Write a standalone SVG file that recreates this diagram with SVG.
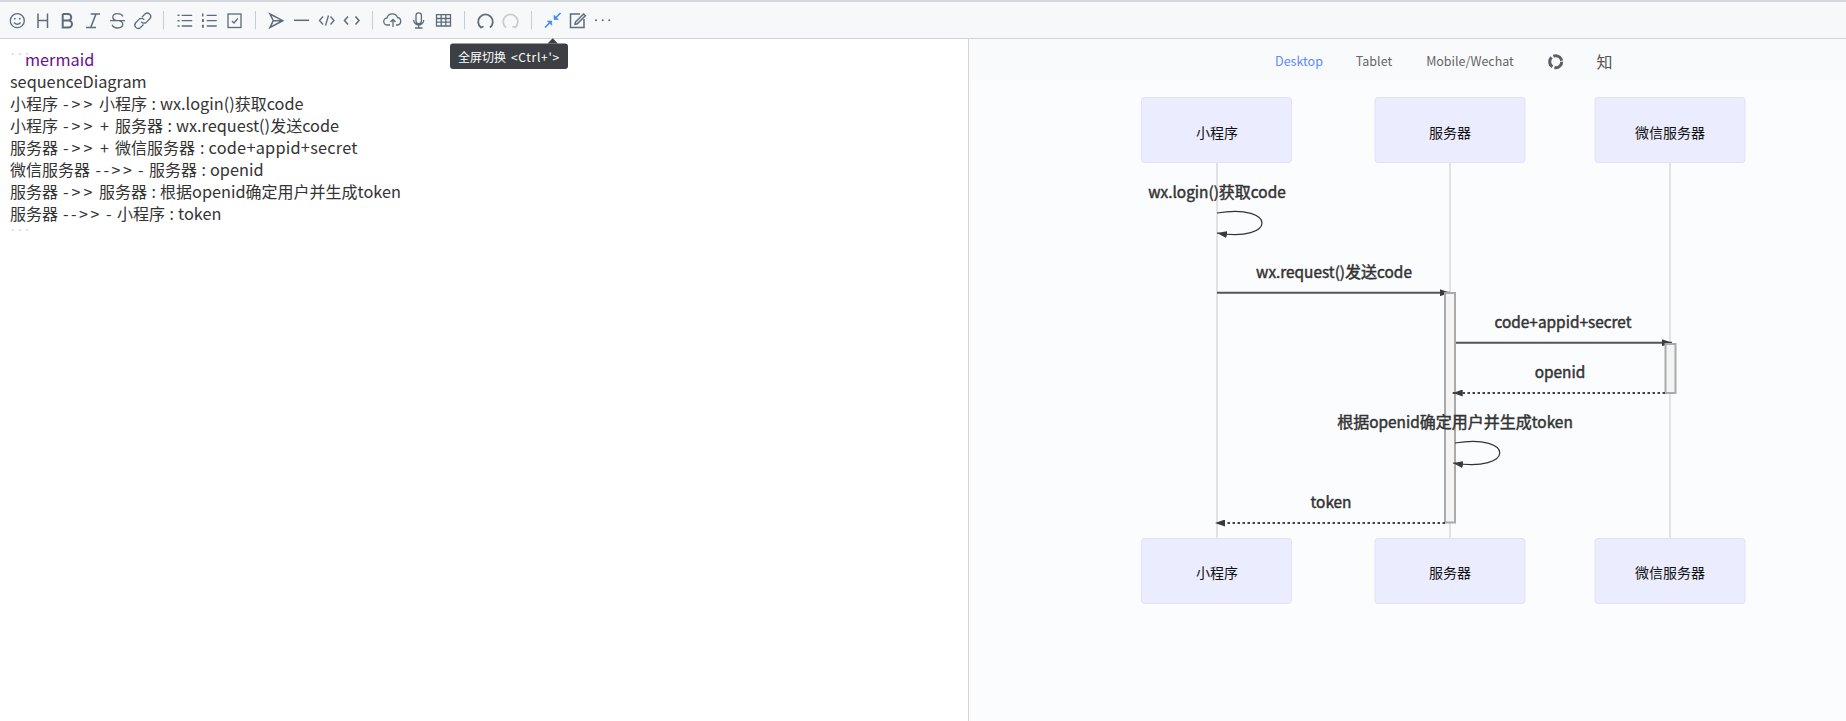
<svg xmlns="http://www.w3.org/2000/svg" width="1846" height="721" viewBox="0 0 1846 721">
<style>
text{font-family:"Noto Sans CJK SC","Noto Sans",sans-serif}
.src{font-size:16px;fill:#333;dominant-baseline:central}
.l{font-size:16.3px}
.tick{font-size:10px;fill:#bdbdbd;letter-spacing:1.2px}
.hdr{font-size:12.5px;fill:#666;text-anchor:middle;dominant-baseline:central}
.actor{fill:#ececff;stroke:#e2e0fa;stroke-width:1}
.aname{font-size:14px;fill:#111;text-anchor:middle;dominant-baseline:central}
.life{stroke:#d4d4d4;stroke-width:1.3;fill:none}
.msg{font-size:15.4px;fill:#333;stroke:#333;stroke-width:.45;text-anchor:middle;dominant-baseline:central}
.c{font-size:16px}
.line{stroke:#555;stroke-width:2;fill:none}
.dash{stroke:#444;stroke-width:2;fill:none;stroke-dasharray:2.500 2.500}
.self{stroke:#333;stroke-width:1.2;fill:none}
.act{fill:#f4f4f4;stroke:#aaa;stroke-width:2}
.ic{fill:none;stroke:#5f6b7a;stroke-width:1.3}
.dot{fill:#5f6b7a}
.sep{stroke:#c8ccd1;stroke-width:1}
</style>
<defs>
<marker id="arrow" viewBox="0 0 10 7" refX="10" refY="3.500" markerUnits="userSpaceOnUse" markerWidth="10" markerHeight="7" orient="auto"><path d="M0 0L10 3.500L0 7z" fill="#3a3a3a"/></marker>
</defs>
<rect width="1846" height="721" fill="#fff"/>
<rect x="969" y="38" width="877" height="683" fill="#fbfcfe"/>
<rect x="969" y="39" width="877" height="41" fill="#f9fafb"/>
<rect x="968" y="38" width="1" height="683" fill="#d1d5da"/>
<rect width="1846" height="38" fill="#f6f8fa"/>
<rect width="1846" height="2" fill="#d4d7dc"/>
<rect y="38" width="1846" height="1" fill="#d1d5da"/>

<g id="toolbar">
<circle class="ic" cx="17.300" cy="20.700" r="7"/><circle class="dot" cx="14.800" cy="18.700" r=".9"/><circle class="dot" cx="19.800" cy="18.700" r=".9"/><path class="ic" d="M14 22.500q3.300 3.500 6.600 0"/>
<path class="ic" style="stroke-width:1.500" d="M38 13.500v14.500M47.500 13.500v14.500M38 20.500h9.500"/>
<path class="ic" style="stroke-width:2" d="M62.700 14v13.500h5.800a3.500 3.500 0 0 0 0-7h-5.800M62.700 14h5.300a3.200 3.200 0 0 1 0 6.500"/>
<path class="ic" style="stroke-width:1.500" d="M90.700 14h9.300M86 27.500h10M96 14l-5.300 13.500"/>
<path class="ic" d="M110 20.700h15M123 16.500C122 14.500 120 13.700 117.500 13.700C114.500 13.700 112.800 15.200 112.800 17.300C112.800 19 114 20 116 20.700M119 20.700C121.500 21.500 122.800 22.500 122.800 24.300C122.800 26.500 120.800 28 117.500 28C114.800 28 112.800 26.800 112.200 24.800"/>
<path class="ic" d="M142 17l3-3a3.400 3.400 0 0 1 4.800 4.800l-3.800 3.800a3.400 3.400 0 0 1-4.800-1M143.500 24.500l-3 3a3.400 3.400 0 0 1-4.800-4.800l3.800-3.800a3.400 3.400 0 0 1 4.800 1"/>
<line class="sep" x1="163.500" y1="11" x2="163.500" y2="29.500"/>
<path class="ic" d="M181.700 15.300h10.500M181.700 20.700h10.500M181.700 26h10.500"/>
<path class="dot" d="M177.500 14.500h2v1.600h-2zM177.500 19.900h2v1.600h-2zM177.500 25.200h2v1.600h-2z"/>
<path class="ic" d="M206.700 15.300h10M206.700 20.700h10M206.700 26h10"/>
<path class="dot" d="M202 13.500h1.500v3h-1.500zM202 19h1.800v3h-1.800zM202 24.800h1.800v3h-1.800z"/>
<rect class="ic" x="228" y="14" width="13" height="13.500"/><path class="ic" d="M232 21l2 2 3.800-4.500"/>
<line class="sep" x1="255.500" y1="11" x2="255.500" y2="29.500"/>
<path class="ic" style="stroke-width:1.500" d="M270 14l12.800 6.700-12.800 6.800 3.300-6.800zM273.300 20.700h9.500"/>
<path class="ic" style="stroke-width:1.500" d="M294 20.300h15"/>
<path class="ic" d="M323 16.500l-3.500 4 3.500 4M330.500 16.500l3.500 4-3.500 4M328.500 15.500l-3 10"/>
<path class="ic" style="stroke-width:1.500" d="M348 16.500l-3.500 4 3.500 4M355.500 16.500l3.500 4-3.500 4"/>
<line class="sep" x1="372.500" y1="11" x2="372.500" y2="29.500"/>
<path class="ic" d="M390 25h-2.500a3.500 3.500 0 0 1-.5-7 5.500 5.500 0 0 1 10.500-.5 3.800 3.800 0 0 1 0 7.500h-1.500M393 27v-7.500M390.500 22l2.500-2.500 2.500 2.500"/>
<path class="ic" d="M416 15.500a2.700 2.700 0 0 1 5.400 0v5.500a2.700 2.700 0 0 1-5.400 0zM413.700 20a5 5 0 0 0 10 0M418.700 25.500v2.500M415 28h7.500"/>
<path class="ic" d="M436.500 14.700h14v11.300h-14zM436.500 18.500h14M436.500 22.200h14M441.200 14.700v11.300M445.800 14.700v11.300"/>
<line class="sep" x1="464.500" y1="11" x2="464.500" y2="29.500"/>
<path class="ic" style="stroke-width:1.800" d="M481 27.500a7.300 7.300 0 1 1 9 0M478.500 24.500l2.500 3 2.500-1"/>
<path class="ic" style="stroke:#ccc;stroke-width:1.800" d="M506 27.500a7.300 7.300 0 1 1 9 0M517.500 24.500l-2.500 3-2.500-1"/>
<line class="sep" x1="531.500" y1="11" x2="531.500" y2="29.500"/>
<path fill="#3f86f8" stroke="#3f86f8" stroke-width=".6" d="M554 19.500v-4.300l4.300 4.300zM551.700 21v4.300l-4.300-4.300z"/>
<path fill="none" stroke="#3f86f8" stroke-width="1.600" d="M560.500 13l-4.500 4.500M545 27.500l4.500-4.500"/>
<path class="ic" style="stroke-width:1.500" d="M580 14h-9.500v13.500h13.500v-8.500M575.500 22l8-8 1.800 1.800-8 8-2.300.4z"/>
<circle class="dot" cx="596" cy="20.300" r="1"/><circle class="dot" cx="602.700" cy="20.300" r="1"/><circle class="dot" cx="609.300" cy="20.300" r="1"/>
</g>

<g id="tooltip">
<rect x="450" y="43.500" width="118" height="25.500" rx="3" fill="#3c3f43"/>
<path d="M547.500 43.500l5.200-5.200 5.200 5.200z" fill="#3c3f43"/>
<text y="56" font-size="12" fill="#fff" dominant-baseline="central"><tspan x="458">全屏切换</tspan><tspan x="511" letter-spacing=".7">&lt;Ctrl+'&gt;</tspan></text>
</g>

<g id="source">
<text x="10" y="61.500" class="tick">```</text>
<text x="25" y="65.500" font-size="16.300" fill="#6a0f8e">mermaid</text>
<text class="src"  y="81"><tspan x="10" class="l">sequenceDiagram</tspan></text>
<text class="src" y="103"><tspan x="10">小程序</tspan><tspan x="63" letter-spacing="3">-&gt;&gt;</tspan><tspan x="99">小程序</tspan><tspan x="151.500">:</tspan><tspan x="160" class="l">wx.login()</tspan><tspan>获取</tspan><tspan class="l">code</tspan></text>
<text class="src" y="125"><tspan x="10">小程序</tspan><tspan x="63" letter-spacing="3">-&gt;&gt;</tspan><tspan x="100">+</tspan><tspan x="115">服务器</tspan><tspan x="167.500">:</tspan><tspan x="176" class="l">wx.request()</tspan><tspan>发送</tspan><tspan class="l">code</tspan></text>
<text class="src" y="147"><tspan x="10">服务器</tspan><tspan x="63" letter-spacing="3">-&gt;&gt;</tspan><tspan x="100">+</tspan><tspan x="115">微信服务器</tspan><tspan x="200">:</tspan><tspan x="208.500" class="l" letter-spacing=".25">code+appid+secret</tspan></text>
<text class="src" y="169"><tspan x="10">微信服务器</tspan><tspan x="95.500" letter-spacing="2.500">--&gt;&gt;</tspan><tspan x="138">-</tspan><tspan x="149">服务器</tspan><tspan x="201.500">:</tspan><tspan x="210" class="l">openid</tspan></text>
<text class="src" y="191"><tspan x="10">服务器</tspan><tspan x="63" letter-spacing="3">-&gt;&gt;</tspan><tspan x="99">服务器</tspan><tspan x="151.500">:</tspan><tspan x="160">根据</tspan><tspan class="l">openid</tspan><tspan>确定用户并生成</tspan><tspan class="l">token</tspan></text>
<text class="src" y="213"><tspan x="10">服务器</tspan><tspan x="63" letter-spacing="2.500">--&gt;&gt;</tspan><tspan x="106">-</tspan><tspan x="117">小程序</tspan><tspan x="169.500">:</tspan><tspan x="178" class="l">token</tspan></text>
<text x="10" y="237.500" class="tick">```</text>
</g>

<g id="preview-header">
<text x="1299" y="60.500" class="hdr" style="fill:#5b8cff">Desktop</text>
<text x="1374" y="60.500" class="hdr">Tablet</text>
<text x="1470" y="60.500" class="hdr">Mobile/Wechat</text>
<circle cx="1555.700" cy="61.700" r="6" fill="none" stroke="#5c6066" stroke-width="3" stroke-dasharray="10.500 2.070"/>
<text x="1604.500" y="61.200" font-size="16" fill="#555" text-anchor="middle" dominant-baseline="central">知</text>
</g>

<g id="lifelines">
<line class="life" x1="1217" y1="163" x2="1217" y2="538"/>
<line class="life" x1="1450" y1="163" x2="1450" y2="538"/>
<line class="life" x1="1670" y1="163" x2="1670" y2="538"/>
</g>

<g id="actor-a-top"><rect class="actor" x="1141.500" y="97.500" width="150" height="65" rx="3"/><text class="aname" x="1217" y="131.500">小程序</text></g>
<g id="actor-b-top"><rect class="actor" x="1375" y="97.500" width="150" height="65" rx="3"/><text class="aname" x="1450" y="131.500">服务器</text></g>
<g id="actor-c-top"><rect class="actor" x="1595" y="97.500" width="150" height="65" rx="3"/><text class="aname" x="1670" y="131.500">微信服务器</text></g>

<g id="connectors-under">
<line class="line" marker-end="url(#arrow)" x1="1217" y1="292.700" x2="1450" y2="292.700"/>
<line class="line" marker-end="url(#arrow)" x1="1455" y1="342.700" x2="1672" y2="342.700"/>
</g>

<g id="activation-b"><rect class="act" x="1445" y="293" width="10" height="229.500"/></g>
<g id="activation-c"><rect class="act" x="1665.500" y="344" width="10" height="49"/></g>

<g id="connectors">
<text class="msg" x="1217" y="191"><tspan>wx.login()</tspan><tspan class="c">获取</tspan><tspan>code</tspan></text>
<path class="self" marker-end="url(#arrow)" d="M1217 213C1277 203 1277 243 1217 233"/>
<text class="msg" x="1334" y="271"><tspan>wx.request()</tspan><tspan class="c">发送</tspan><tspan>code</tspan></text>
<text class="msg" x="1563" y="321">code+appid+secret</text>
<text class="msg" x="1560" y="371">openid</text>
<line class="dash" marker-end="url(#arrow)" x1="1665" y1="393" x2="1452.700" y2="393"/>
<text class="msg" x="1455" y="421"><tspan class="c">根据</tspan><tspan>openid</tspan><tspan class="c">确定用户并生成</tspan><tspan>token</tspan></text>
<path class="self" marker-end="url(#arrow)" d="M1455 443C1515 433 1515 473 1453 463"/>
<text class="msg" x="1331" y="501">token</text>
<line class="dash" marker-end="url(#arrow)" x1="1445" y1="523" x2="1215" y2="523"/>
</g>

<g id="actor-a-bottom"><rect class="actor" x="1141.500" y="538.500" width="150" height="65" rx="3"/><text class="aname" x="1217" y="572">小程序</text></g>
<g id="actor-b-bottom"><rect class="actor" x="1375" y="538.500" width="150" height="65" rx="3"/><text class="aname" x="1450" y="572">服务器</text></g>
<g id="actor-c-bottom"><rect class="actor" x="1595" y="538.500" width="150" height="65" rx="3"/><text class="aname" x="1670" y="572">微信服务器</text></g>
</svg>
